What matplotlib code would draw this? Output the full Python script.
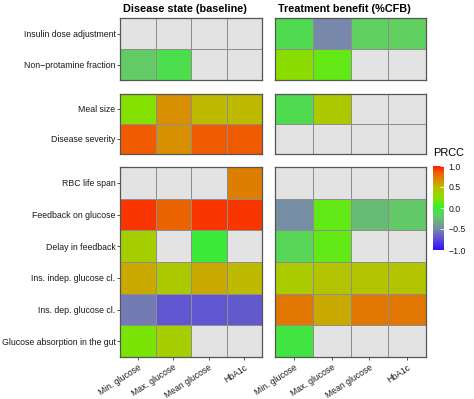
import numpy as np
import matplotlib
matplotlib.use("Agg")
import matplotlib.pyplot as plt
from matplotlib.colors import LinearSegmentedColormap, Normalize

plt.rcParams["font.family"] = ["Liberation Sans", "DejaVu Sans"]

# --- data (PRCC values, nan = not significant) ---
rows = ["Insulin dose adjustment", "Non\u2212protamine fraction",
        "Meal size", "Disease severity",
        "RBC life span", "Feedback on glucose", "Delay in feedback",
        "Ins. indep. glucose cl.", "Ins. dep. glucose cl.",
        "Glucose absorption in the gut"]
cols = ["Min. glucose", "Max. glucose", "Mean glucose", "HbA1c"]
nan = np.nan
baseline = [
    [nan, nan, nan, nan],
    [-0.18, -0.08, nan, nan],
    [0.22, 0.65, 0.5, 0.5],
    [0.85, 0.65, 0.85, 0.85],
    [nan, nan, nan, 0.72],
    [0.93, 0.82, 0.93, 0.93],
    [0.38, nan, -0.02, nan],
    [0.57, 0.42, 0.57, 0.5],
    [-0.55, -0.7, -0.7, -0.68],
    [0.18, 0.38, nan, nan],
]
treatment = [
    [-0.1, -0.5, -0.15, -0.15],
    [0.25, 0.12, nan, nan],
    [-0.1, 0.42, nan, nan],
    [nan, nan, nan, nan],
    [nan, nan, nan, nan],
    [-0.47, 0.12, -0.28, -0.2],
    [-0.12, 0.12, nan, nan],
    [0.4, 0.45, 0.45, 0.45],
    [0.75, 0.57, 0.75, 0.75],
    [-0.05, nan, nan, nan],
]
titles = ["Disease state (baseline)", "Treatment benefit (%CFB)"]
blocks = [(0, 2), (2, 4), (4, 10)]

W, H = 474, 399
fig = plt.figure(figsize=(W / 100, H / 100), dpi=100)


def px_axes(x0, y0, x1, y1):
    return fig.add_axes([x0 / W, 1 - y1 / H, (x1 - x0) / W, (y1 - y0) / H])


stops = [(-1.0, "#2a10ff"), (-0.75, "#5a4ad8"), (-0.5, "#7888aa"),
         (-0.3, "#68b878"), (-0.15, "#60d060"), (0.0, "#33ee33"),
         (0.2, "#80e400"), (0.4, "#a8cc00"), (0.5, "#bcbc00"),
         (0.65, "#d89000"), (0.75, "#e07800"), (0.85, "#f05a00"),
         (1.0, "#ff1a00")]
cmap = LinearSegmentedColormap.from_list(
    "prcc", [((v + 1) / 2, c) for v, c in stops])
cmap.set_bad("#E3E3E3")
norm = Normalize(-1, 1)

panel_x = [(120, 262), (275, 426)]
block_y = [(18, 80), (94, 154), (167, 357)]
fs = 6.3

for p, vals in enumerate([baseline, treatment]):
    for b, (r0, r1) in enumerate(blocks):
        x0, x1 = panel_x[p]
        y0, y1 = block_y[b]
        ax = px_axes(x0, y0, x1, y1)
        n = r1 - r0
        data = np.ma.masked_invalid(np.array(vals[r0:r1]))
        ax.pcolormesh(np.arange(5), np.arange(n + 1), data, cmap=cmap,
                      norm=norm, edgecolors="#8e8e8e", linewidth=0.7)
        ax.set_xlim(0, 4)
        ax.set_ylim(n, 0)
        for s in ax.spines.values():
            s.set_color("#555555")
            s.set_linewidth(0.9)
        ax.tick_params(length=2.5, width=0.6, color="#333333",
                       labelsize=fs, pad=0.8, labelcolor="#1a1a1a")
        if p == 0:
            ax.set_yticks(np.arange(n) + 0.5)
            ax.set_yticklabels(rows[r0:r1])
        else:
            ax.set_yticks([])
        if b == 2:
            ax.set_xticks(np.arange(4) + 0.5)
            ax.set_xticklabels(cols, rotation=33, ha="right",
                               rotation_mode="anchor", fontsize=6.2)
            ax.tick_params(axis="x", pad=1.5)
        else:
            ax.set_xticks([])
    fig.text((panel_x[p][0] + 3) / W, 1 - 9 / H, titles[p],
             fontsize=7.8, fontweight="bold", va="center", ha="left")

# colorbar
cax = px_axes(433, 166, 444, 250)
sm = plt.cm.ScalarMappable(norm=norm, cmap=cmap)
cb = fig.colorbar(sm, cax=cax, ticks=[-1, -0.5, 0, 0.5, 1])
cb.outline.set_visible(False)
cb.ax.set_yticklabels(["\u22121.0", "\u22120.5", "0.0", "0.5", "1.0"])
cb.ax.tick_params(direction="in", color="white", length=3, width=0.6,
                  labelsize=fs, pad=3, labelcolor="#1a1a1a")
fig.text(433 / W, 1 - 153 / H, "PRCC", fontsize=7.9, va="center", ha="left")

fig.savefig("out.png", dpi=100)
